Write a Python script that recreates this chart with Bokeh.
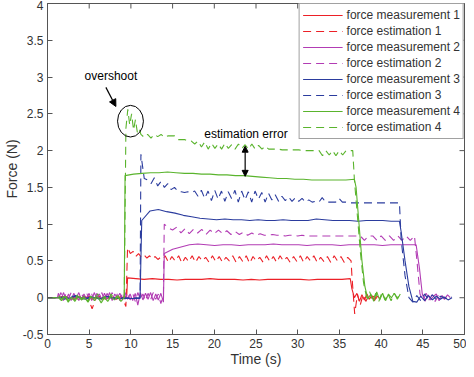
import numpy as np
from bokeh.plotting import figure
from bokeh.models import Range1d, FixedTicker, Label, Arrow, NormalHead
from bokeh.embed import file_html
from bokeh.resources import INLINE

# ---------------- data ----------------
x_ticks = [0, 5, 10, 15, 20, 25, 30, 35, 40, 45, 50]
y_ticks = [-0.5, 0, 0.5, 1, 1.5, 2, 2.5, 3, 3.5, 4]
y_tick_labels = ["-0.5", "0", "0.5", "1", "1.5", "2", "2.5", "3", "3.5", "4"]

series_names = ["force measurement 1", "force estimation 1",
                "force measurement 2", "force estimation 2",
                "force measurement 3", "force estimation 3",
                "force measurement 4", "force estimation 4"]

# each series: list of segments (t_start, t_end, values sampled evenly in between)
meas1 = [
    (0.0, 1.2, [0, 0]),
    (1.3, 9.5, [0.01, -0.01, 0.02, 0.0, -0.02, 0.01, 0.02, -0.01, 0.0, 0.02, -0.02,
                0.01, 0.0, -0.01, 0.02, 0.0, 0.01, -0.02, 0.01, 0.0, 0.02]),
    (9.6, 36.3, [0.27, 0.26, 0.25, 0.26, 0.25, 0.25, 0.24, 0.25, 0.25, 0.25, 0.26, 0.25,
                 0.25, 0.25, 0.24, 0.25, 0.24, 0.25, 0.25, 0.25, 0.25, 0.25, 0.24, 0.25,
                 0.25, 0.25, 0.25, 0.26]),
    (36.5, 39.8, [0.12, 0.0, 0.06, -0.05, 0.04, -0.03, 0.05, -0.02, 0.03, -0.04, 0.02, 0.0]),
]
est1 = [
    (0.0, 1.2, [0, 0]),
    (1.3, 9.4, [0.0, 0.02, -0.02, 0.01, 0.0, -0.03, 0.02, 0.0, -0.15, 0.01, 0.02, -0.02,
                0.0, 0.01, -0.01, 0.02, -0.12]),
    (9.6, 13.9, [0.68, 0.6, 0.63, 0.56, 0.6, 0.55, 0.58, 0.54, 0.57, 0.53, 0.56, 0.52,
                 0.55, 0.53]),
    (14.1, 36.4, [0.57, 0.48, 0.56, 0.5, 0.57, 0.47, 0.55, 0.49, 0.57, 0.48, 0.56, 0.5,
                  0.55, 0.48, 0.57, 0.49, 0.56, 0.48, 0.55, 0.5, 0.57, 0.48, 0.56, 0.49,
                  0.57, 0.47, 0.56, 0.5, 0.55, 0.48, 0.57, 0.49, 0.56, 0.48, 0.57, 0.5,
                  0.55, 0.48, 0.56, 0.49, 0.57, 0.48, 0.56, 0.5, 0.57, 0.48, 0.55, 0.49,
                  0.56, 0.48, 0.57, 0.5, 0.56, 0.48, 0.55, 0.5]),
    (36.5, 39.5, [0.3, -0.22, 0.05, -0.1, 0.04, -0.05, 0.03, 0.0, 0.02, -0.02]),
]
meas2 = [
    (0.0, 1.2, [0, 0]),
    (1.3, 13.9, [0.06, -0.03, 0.07, -0.02, 0.05, -0.04, 0.06, 0.0, 0.07, -0.03, 0.05,
                 -0.02, 0.06, -0.04, 0.07, -0.01, 0.05, -0.03, 0.06, -0.02, 0.07, -0.04,
                 0.05, 0.0, 0.06, -0.03, 0.07, -0.02, 0.05, -0.04, 0.06, -0.1, 0.07,
                 -0.03, 0.06, -0.02, 0.07, -0.04, 0.05, -0.03, 0.06, -0.06]),
    (14.0, 44.2, [0.6, 0.66, 0.69, 0.72, 0.73, 0.72, 0.71, 0.72, 0.72, 0.71, 0.72, 0.72,
                  0.72, 0.73, 0.72, 0.72, 0.72, 0.71, 0.72, 0.72, 0.72, 0.71, 0.72, 0.72,
                  0.72, 0.72, 0.71, 0.72, 0.72, 0.72, 0.72]),
    (44.6, 48.3, [0.4, 0.05, -0.05, 0.04, -0.03, 0.02, 0.05, -0.04, 0.03, -0.02, 0.04, 0.0]),
]
est2 = [
    (0.0, 1.2, [0, 0]),
    (1.3, 13.9, [-0.02, 0.07, -0.04, 0.06, -0.01, 0.07, -0.03, 0.05, -0.04, 0.06, -0.02,
                 0.07, -0.03, 0.05, -0.04, 0.06, -0.01, 0.07, -0.05, 0.06, -0.02, 0.07,
                 -0.03, 0.05, -0.04, 0.06, -0.02, 0.07, -0.03, 0.06, -0.05, 0.07, -0.02,
                 0.05, -0.04, 0.06, -0.03, 0.07, -0.02, 0.05, -0.08, 0.04]),
    (14.0, 44.0, [1.0, 0.95, 0.92, 0.96, 0.88, 0.94, 0.87, 0.93, 0.88, 0.93, 0.86, 0.92,
                  0.87, 0.92, 0.87, 0.91, 0.86, 0.9, 0.86, 0.89, 0.85, 0.88, 0.85, 0.87,
                  0.85, 0.85, 0.86, 0.85, 0.85, 0.84, 0.85, 0.85, 0.84, 0.85, 0.84, 0.84,
                  0.84, 0.84, 0.84, 0.84, 0.84, 0.84, 0.84, 0.84, 0.84, 0.84, 0.84, 0.84,
                  0.78, 0.84, 0.84, 0.78, 0.84, 0.78, 0.84, 0.78, 0.84, 0.78, 0.84, 0.78,
                  0.84]),
    (44.3, 48.3, [0.5, 0.05, -0.04, 0.06, -0.03, 0.04, -0.05, 0.03, 0.05, -0.02, 0.03, 0.01]),
]
meas3 = [
    (0.0, 1.2, [0, 0]),
    (1.3, 11.1, [0.0, 0.01, -0.01, 0.02, 0.0, -0.02, 0.01, 0.0, -0.01, 0.02, 0.0, -0.01,
                 -0.01, -0.01, -0.01, -0.01]),
    (11.3, 42.2, [1.05, 1.18, 1.2, 1.17, 1.15, 1.12, 1.1, 1.08, 1.07, 1.06, 1.07, 1.06,
                  1.06, 1.05, 1.06, 1.05, 1.05, 1.06, 1.05, 1.05, 1.05, 1.07, 1.06, 1.05,
                  1.05, 1.05, 1.04, 1.05, 1.05, 1.05, 1.04, 1.04]),
    (42.4, 48.5, [0.9, 0.5, 0.15, -0.05, -0.06, 0.02, -0.04, 0.03, -0.03, 0.02, -0.02,
                  0.01, -0.03, 0.0]),
]
est3 = [
    (0.0, 1.2, [0, 0]),
    (1.3, 11.1, [0.02, -0.02, 0.01, 0.03, -0.01, 0.0, 0.02, -0.02, 0.01, 0.0, -0.01,
                 0.0, 0.0, 0.0, 0.0]),
    (11.2, 42.2, [1.95, 1.62, 1.6, 1.55, 1.63, 1.52, 1.58, 1.5, 1.55, 1.47, 1.5, 1.45,
                  1.44, 1.43, 1.44, 1.43, 1.45, 1.38, 1.46, 1.35, 1.45, 1.32, 1.46, 1.34,
                  1.45, 1.31, 1.44, 1.35, 1.46, 1.3, 1.45, 1.33, 1.44, 1.3, 1.45, 1.34,
                  1.43, 1.3, 1.42, 1.33, 1.4, 1.31, 1.38, 1.32, 1.37, 1.31, 1.36, 1.31,
                  1.35, 1.3, 1.33, 1.3, 1.31, 1.3, 1.36, 1.3, 1.3, 1.3, 1.3, 1.35, 1.3,
                  1.3, 1.29, 1.29, 1.29, 1.29, 1.29, 1.29, 1.29, 1.29, 1.29, 1.29, 1.29,
                  1.29, 1.29, 1.29, 1.29, 1.29]),
    (42.4, 48.5, [0.8, 0.3, 0.0, -0.06, 0.03, -0.04, 0.05, -0.02, 0.04, -0.03, 0.02, 0.0,
                  -0.02, 0.01]),
]
meas4 = [
    (0.0, 1.2, [0, 0]),
    (1.3, 9.2, [0.0, -0.04, 0.02, -0.06, 0.01, -0.05, 0.02, -0.03, 0.0, -0.06, 0.02,
                -0.04, 0.01, -0.07, 0.0, -0.05, 0.02, -0.03, 0.01, -0.05, 0.0]),
    (9.3, 36.8, [1.66, 1.68, 1.69, 1.70, 1.70, 1.71, 1.70, 1.69, 1.69, 1.68, 1.68, 1.67,
                 1.67, 1.66, 1.66, 1.65, 1.64, 1.63, 1.62, 1.62, 1.61, 1.61, 1.6, 1.6,
                 1.6, 1.6, 1.6, 1.61]),
    (37.0, 42.3, [1.5, 1.0, 0.5, 0.15, -0.02, 0.05, -0.05, 0.08, -0.03, 0.06, -0.04, 0.05,
                  0.0, 0.06, -0.02, 0.05]),
]
est4 = [
    (0.0, 1.2, [0, 0]),
    (1.3, 9.2, [0.03, -0.02, 0.05, -0.04, 0.02, -0.03, 0.06, -0.02, 0.03, -0.05, 0.04,
                -0.01, 0.05, -0.03, 0.02, -0.04, 0.05, -0.02, 0.03, -0.03, 0.0]),
    (9.4, 11.0, [2.3, 2.56, 2.35, 2.5, 2.28, 2.42, 2.25, 2.3]),
    (11.2, 36.6, [2.22, 2.18, 2.22, 2.17, 2.22, 2.19, 2.22, 2.18, 2.2, 2.2, 2.2, 2.15,
                  2.15, 2.15, 2.13, 2.13, 2.09, 2.13, 2.05, 2.12, 2.02, 2.1, 2.03, 2.09,
                  2.02, 2.1, 2.03, 2.08, 2.02, 2.09, 2.03, 2.08, 2.02, 2.09, 2.02, 2.07,
                  2.02, 2.06, 2.02, 2.02, 2.02, 2.02, 2.01, 2.01, 2.01, 2.01, 2.01, 2.01,
                  2.0, 2.0, 2.0, 2.0, 2.0, 2.0, 1.93, 2.0, 1.94, 2.0, 1.93, 2.0, 1.94,
                  2.0, 2.0, 2.0]),
    (36.8, 42.3, [1.6, 1.1, 0.6, 0.2, 0.0, 0.08, -0.04, 0.06, -0.05, 0.07, -0.03, 0.05,
                  -0.04, 0.06, 0.0, 0.04]),
]

all_series = [meas1, est1, meas2, est2, meas3, est3, meas4, est4]
colors = ["#ec2027", "#ec2027", "#b23cb4", "#b23cb4",
          "#2b3c9e", "#2b3c9e", "#5ab42d", "#5ab42d"]
dashes = ["solid", "8 5", "solid", "8 5", "solid", "8 5", "solid", "8 5"]


def build(segments):
    ts, ys = [], []
    for t0, t1, vals in segments:
        ts.extend(np.linspace(t0, t1, len(vals)).tolist())
        ys.extend(vals)
    return ts, ys


FONT = "Liberation Sans"
AX = "#555555"
TXT = "#333333"

p = figure(width=466, height=369, output_backend="svg", toolbar_location=None,
           x_range=Range1d(0, 50), y_range=Range1d(-0.5, 4),
           min_border_left=20, min_border_right=2, min_border_top=3,
           min_border_bottom=20, background_fill_color="white",
           border_fill_color="white")
p.xgrid.visible = False
p.ygrid.visible = False
p.outline_line_color = AX
p.outline_line_width = 1

for axis in p.xaxis:
    axis.ticker = FixedTicker(ticks=x_ticks)
    axis.axis_label = "Time (s)"
    axis.major_label_standoff = 4
    axis.axis_label_standoff = 0
for axis in p.yaxis:
    axis.ticker = FixedTicker(ticks=y_ticks)
    axis.major_label_overrides = {float(v): s for v, s in zip(y_ticks, y_tick_labels)}
    axis.axis_label = "Force (N)"
    axis.major_label_standoff = 4
    axis.axis_label_standoff = 0

for axis in list(p.xaxis) + list(p.yaxis):
    axis.major_tick_in = 5
    axis.major_tick_out = 0
    axis.minor_tick_line_color = None
    axis.axis_line_color = AX
    axis.major_tick_line_color = AX
    axis.major_label_text_font = FONT
    axis.major_label_text_font_size = "12px"
    axis.major_label_text_color = TXT
    axis.axis_label_text_font = FONT
    axis.axis_label_text_font_size = "14px"
    axis.axis_label_text_font_style = "normal"
    axis.axis_label_text_color = TXT

# inward box ticks on the top and right edges (half of each dash is clipped by the frame)
p.scatter(x=x_ticks, y=[y_ticks[-1]] * len(x_ticks), marker="dash", angle=np.pi / 2,
          size=10, line_color=AX, line_width=1)
p.scatter(x=[x_ticks[-1]] * len(y_ticks), y=y_ticks, marker="dash",
          size=10, line_color=AX, line_width=1)

for name, seg, col, dash in zip(series_names, all_series, colors, dashes):
    t, y = build(seg)
    p.line(t, y, line_color=col, line_width=1.1, line_dash=dash, legend_label=name)

# annotations
p.ellipse(x=[9.95], y=[2.4], width=3.1, height=0.43, fill_color=None,
          line_color="black", line_width=1)
p.add_layout(Arrow(end=NormalHead(size=7, fill_color="black", line_color="black"),
                   x_start=7.0, y_start=2.86, x_end=8.2, y_end=2.6,
                   line_color="black", line_width=1.2))
p.add_layout(Label(x=7.6, y=3.02, text="overshoot", text_align="center",
                   text_baseline="middle", text_font=FONT, text_font_size="12px",
                   text_color="black"))
p.add_layout(Arrow(start=NormalHead(size=6, fill_color="black", line_color="black"),
                   end=NormalHead(size=6, fill_color="black", line_color="black"),
                   x_start=23.7, y_start=1.65, x_end=23.7, y_end=2.06,
                   line_color="black", line_width=1.2))
p.add_layout(Label(x=18.8, y=2.22, text="estimation error", text_align="left",
                   text_baseline="middle", text_font=FONT, text_font_size="12px",
                   text_color="black"))

lg = p.legend[0]
lg.location = "top_right"
lg.margin = 0
lg.padding = 3
lg.spacing = 0
lg.label_height = 16
lg.glyph_height = 16
lg.glyph_width = 40
lg.label_standoff = 4
lg.label_text_font = FONT
lg.label_text_font_size = "12px"
lg.label_text_color = TXT
lg.border_line_color = "#444444"
lg.border_line_width = 1
lg.background_fill_color = "white"
lg.background_fill_alpha = 1.0

open("out.html", "w").write(file_html(p, INLINE))
